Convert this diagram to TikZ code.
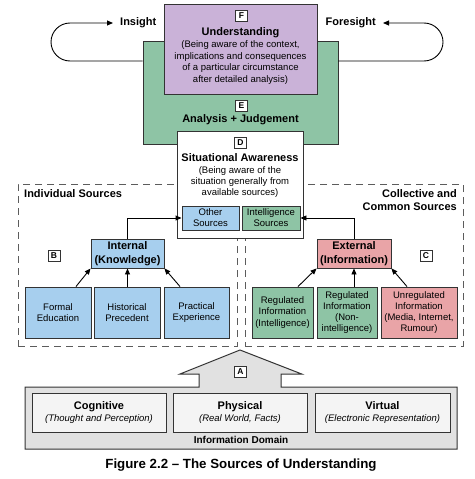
\documentclass[tikz,border=0pt]{standalone}
\usepackage{fontspec}
\setmainfont{Liberation Sans}
\usetikzlibrary{arrows.meta}
\definecolor{purp}{HTML}{CAB2D8}
\definecolor{grn}{HTML}{8EC4A5}
\definecolor{blu}{HTML}{A7CFEE}
\definecolor{pnk}{HTML}{E9A4A7}
\definecolor{gry}{HTML}{E1E1E1}
\definecolor{lgry}{HTML}{F4F4F4}
\definecolor{edge}{HTML}{333333}
\begin{document}
\begin{tikzpicture}[x=1pt,y=-1pt,
  box/.style={draw=edge,line width=0.9pt,rectangle,inner sep=0pt,align=center,
    font=\fontsize{9.5}{11.2}\selectfont},
  lbl/.style={draw=edge,fill=white,line width=0.8pt,inner sep=0pt,minimum width=12pt,minimum height=11pt,
    font=\fontsize{8.5}{9}\selectfont\bfseries},
  ttl/.style={font=\fontsize{11}{12}\selectfont\bfseries,inner sep=0pt,align=center},
  dsc/.style={font=\fontsize{9.5}{11.7}\selectfont,inner sep=0pt,align=center},
  grp/.style={draw=edge!80,line width=0.8pt,dash pattern=on 7pt off 5pt},
  arr/.style={line width=0.9pt,-{Triangle[length=6pt,width=5pt]}},
  looparr/.style={line width=0.9pt,rounded corners=19pt,-{Triangle[length=6pt,width=5pt]}}]
\useasboundingbox (0,0) rectangle (474,479);

% dashed groups
\node[grp,minimum width=219pt,minimum height=162pt,inner sep=0pt] (gl) at (127.5,265) {};
\node[grp,minimum width=218pt,minimum height=162pt,inner sep=0pt] (gr) at (354,265) {};

% E
\node[box,fill=grn,minimum width=195pt,minimum height=103pt] (E) at (240.5,92.5) {};
% F
\node[box,fill=purp,minimum width=153pt,minimum height=90pt] (F) at (240.5,49) {};
\node[lbl] (Fl) at (241.5,16) {F};
\node[ttl] (Ft) at (240.5,33) {Understanding};
\node[dsc] (Fd) at (240.5,62.5) {(Being aware of the context,\\implications and consequences\\of a particular circumstance\\after detailed analysis)};
\node[lbl] (El) at (241.5,105.5) {E};
\node[ttl] (Et) at (240.5,120) {Analysis + Judgement};

% loops
\coordinate (il) at (113,23);
\coordinate (fr) at (383,23);
\coordinate (lc1) at (51,61);
\coordinate (lc2) at (51,23);
\coordinate (rc1) at (443,61);
\coordinate (rc2) at (443,23);
\node[ttl,anchor=west] (ins) at (120,23) {Insight};
\node[ttl,anchor=east] (fore) at (376,23) {Foresight};
\draw[looparr] (E.west |- lc1) -- (lc1) -- (lc2) -- (il);
\draw[looparr] (E.east |- rc1) -- (rc1) -- (rc2) -- (fr);

% D
\node[box,fill=white,minimum width=126pt,minimum height=107pt] (D) at (240,184.5) {};
\node[lbl] (Dl) at (240.5,143) {D};
\node[ttl] (Dt) at (240,158) {Situational Awareness};
\node[dsc,font=\fontsize{9.5}{11}\selectfont] (Dd) at (240,182) {(Being aware of the\\situation generally from\\available sources)};
\node[box,fill=blu,minimum width=57pt,minimum height=24pt] (other) at (210.5,218) {Other\\Sources};
\node[box,fill=grn,minimum width=58pt,minimum height=24pt] (intel) at (271,218) {Intelligence\\Sources};

% group titles
\node[ttl,anchor=west] (indiv) at (24,194) {Individual Sources};
\node[ttl,anchor=east,align=right,font=\fontsize{11}{13}\selectfont\bfseries] (coll) at (457,200.5) {Collective and\\Common Sources};

% left group
\node[lbl] (Bl) at (54,255.5) {B};
\node[box,fill=blu,minimum width=73pt,minimum height=29pt,font=\fontsize{11}{13.5}\selectfont\bfseries] (internal) at (127.5,253.5) {Internal\\(Knowledge)};
\node[box,fill=blu,minimum width=66pt,minimum height=51pt] (formal) at (58,312.5) {Formal\\Education};
\node[box,fill=blu,minimum width=66pt,minimum height=51pt] (hist) at (127,312.5) {Historical\\Precedent};
\node[box,fill=blu,minimum width=65pt,minimum height=51pt] (pract) at (196.5,312.5) {Practical\\Experience};
\draw[arr] ([xshift=18pt]formal.north) -- (internal.south west);
\draw[arr] (hist.north -| internal.south) -- (internal.south);
\draw[arr] ([xshift=-16.5pt]pract.north) -- (internal.south east);
\draw[arr] (internal.north) |- (other.west);

% right group
\node[lbl] (Cl) at (426,256) {C};
\node[box,fill=pnk,minimum width=74pt,minimum height=29pt,font=\fontsize{11}{13.5}\selectfont\bfseries] (external) at (354,253.5) {External\\(Information)};
\node[box,fill=grn,minimum width=61pt,minimum height=51pt] (regi) at (282.5,312.5) {Regulated\\Information\\(Intelligence)};
\node[box,fill=grn,minimum width=60pt,minimum height=51pt] (regn) at (347,312.5) {Regulated\\Information\\(Non-\\intelligence)};
\node[box,fill=pnk,minimum width=76pt,minimum height=51pt] (unreg) at (419,312.5) {Unregulated\\Information\\(Media, Internet,\\Rumour)};
\draw[arr] ([xshift=15.5pt]regi.north) -- (external.south west);
\draw[arr] (external.south |- regn.north) -- (external.south);
\draw[arr] ([xshift=-12pt]unreg.north) -- (external.south east);
\draw[arr] (external.north) |- (intel.east);

% big arrow / domain
\draw[draw=edge,fill=gry,line width=1pt,line join=miter]
  (25,387) -- (199,387) -- (199,374) -- (180,374) -- (240,350) -- (301.7,374) -- (281,374) -- (281,387)
  -- (457,387) -- (457,449) -- (25,449) -- cycle;
\node[lbl] (Al) at (240.5,372) {A};
\node[box,fill=lgry,minimum width=134pt,minimum height=39pt,line width=0.8pt] (cog) at (99,412.5)
  {\fontsize{11}{13}\selectfont\bfseries Cognitive\\\fontsize{9.5}{11}\selectfont\itshape (Thought and Perception)};
\node[box,fill=lgry,minimum width=134pt,minimum height=39pt,line width=0.8pt] (phys) at (240,412.5)
  {\fontsize{11}{13}\selectfont\bfseries Physical\\\fontsize{9.5}{11}\selectfont\itshape (Real World, Facts)};
\node[box,fill=lgry,minimum width=135pt,minimum height=39pt,line width=0.8pt] (virt) at (382.5,412.5)
  {\fontsize{11}{13}\selectfont\bfseries Virtual\\\fontsize{9.5}{11}\selectfont\itshape (Electronic Representation)};
\node[ttl,font=\fontsize{10}{12}\selectfont\bfseries] (dom) at (241,440) {Information Domain};

% caption
\node[ttl,font=\fontsize{13.3}{15}\selectfont\bfseries] (cap) at (241,465) {Figure 2.2 – The Sources of Understanding};
\end{tikzpicture}
\end{document}
